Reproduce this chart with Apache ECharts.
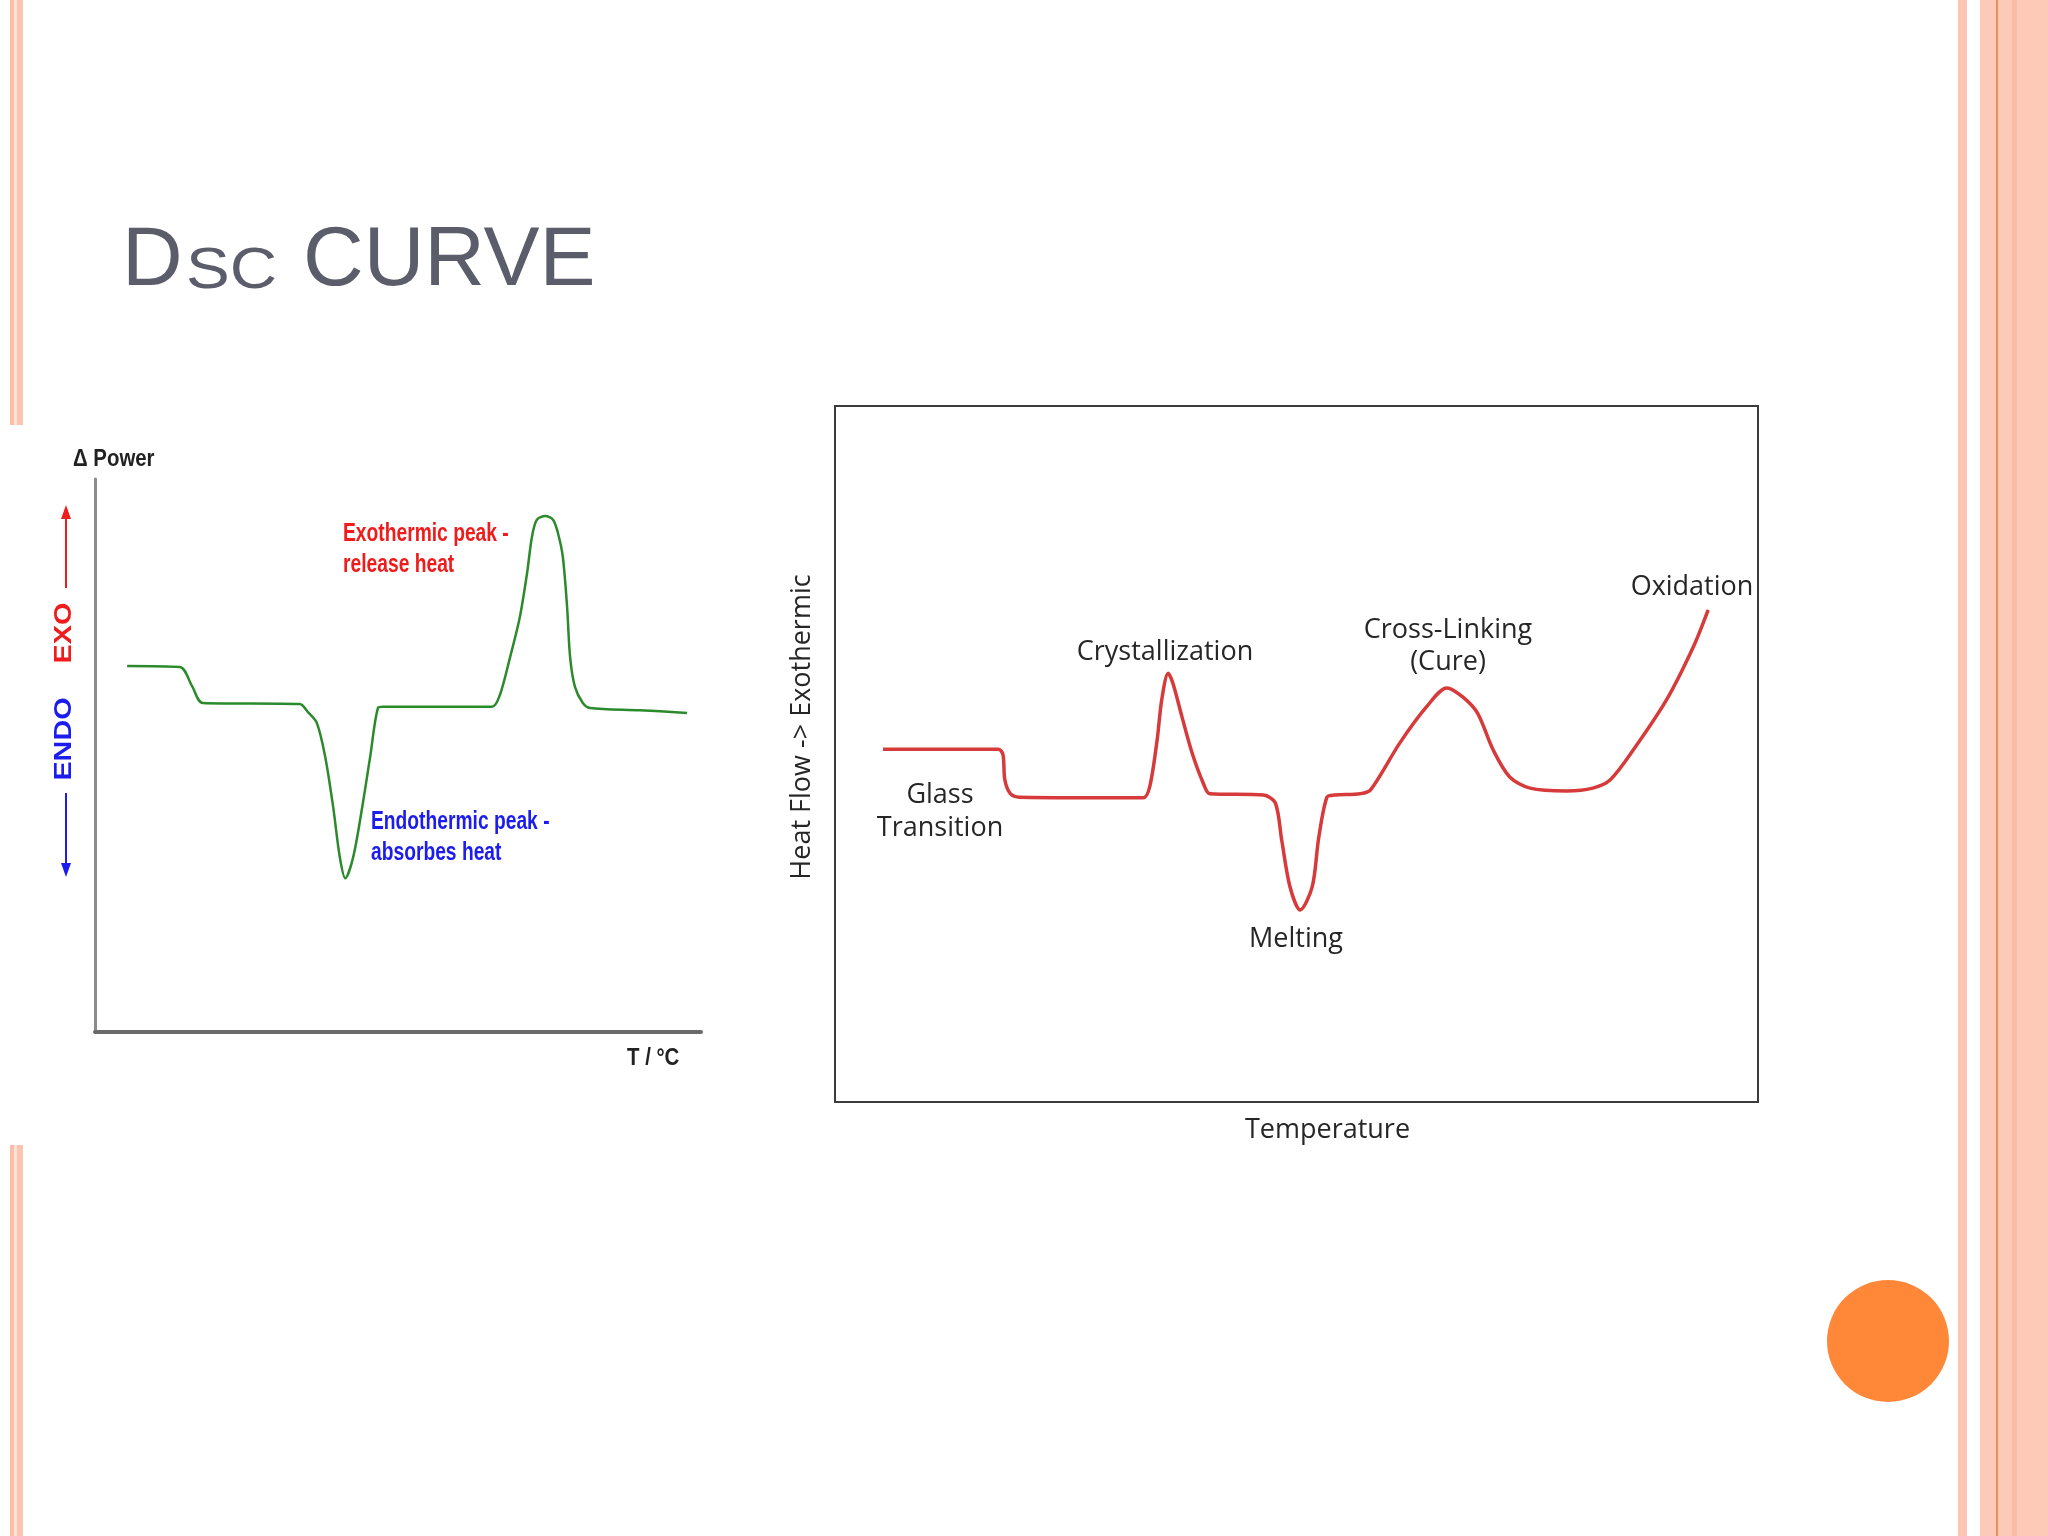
<!DOCTYPE html>
<html>
<head>
<meta charset="utf-8">
<title>DSC curve</title>
<script src="https://cdn.jsdelivr.net/npm/echarts@6/dist/echarts.min.js"></script>
<style>
  html, body { margin: 0; padding: 0; background: #ffffff; }
  #main { width: 2048px; height: 1536px; }
</style>
</head>
<body>
<div id="main"></div>
<script>
// left sketch: power vs temperature (arbitrary units, 0-100)
var leftTemp = [5.3, 14.0, 16.0, 17.8, 33.8, 35.1, 36.6, 38.0, 39.3, 40.4, 41.3, 42.6, 44.1, 45.4, 46.7, 47.5,
  65.5, 66.8, 68.5, 70.1, 71.3, 72.1, 72.9, 74.3, 75.6, 76.4, 77.2, 77.9, 78.4, 79.2, 80.5, 81.7, 89.9, 97.7];
var leftPower = [66.2, 66.0, 62.6, 59.5, 59.3, 57.9, 55.9, 49.7, 40.7, 31.6, 27.8, 31.6, 40.7, 49.7, 58.6, 58.8,
  58.8, 60.9, 67.8, 75.0, 83.0, 89.5, 92.6, 93.3, 92.6, 90.2, 85.9, 76.9, 67.8, 62.4, 59.5, 58.6, 58.2, 57.7];

// right sketch: heat flow vs temperature (arbitrary units, 0-100)
var rightTemp = [5.2, 17.7, 18.2, 18.4, 19.0, 20.0, 33.4, 34.1, 34.9, 35.4, 36.1, 36.6, 37.6, 38.7, 39.9, 40.6,
  46.4, 47.7, 48.4, 49.3, 50.4, 51.7, 52.4, 53.3, 54.1, 56.9, 58.0, 61.2, 64.1, 66.3, 68.0, 69.6,
  71.3, 73.1, 75.3, 79.3, 82.1, 84.0, 86.5, 90.1, 93.0, 94.6];
var rightHeatFlow = [50.7, 50.7, 49.9, 46.3, 44.3, 43.8, 43.7, 45.3, 52.0, 57.8, 61.6, 60.2, 55.3, 50.1, 45.8, 44.3,
  44.1, 43.0, 37.6, 30.9, 27.6, 30.9, 37.9, 43.8, 44.1, 44.3, 44.8, 51.6, 56.8, 59.5, 58.2, 55.9,
  50.6, 46.7, 45.1, 44.7, 45.1, 46.3, 50.6, 57.8, 65.4, 70.7];

function zip(xs, ys) {
  return xs.map(function (x, i) { return [x, ys[i]]; });
}

var narrow = "'Liberation Sans', Arial, sans-serif";
var calib = "'Open Sans', 'Noto Sans', sans-serif";

function label(x, y, text, opts) {
  opts = opts || {};
  return {
    type: 'text', x: x, y: y, z: 10,
    scaleX: opts.scaleX || 1,
    rotation: opts.rotation || 0,
    style: {
      text: text,
      font: opts.font || ('27px ' + calib),
      fill: opts.fill || '#262626',
      textAlign: opts.align || 'center',
      textVerticalAlign: 'middle'
    }
  };
}

var chart = echarts.init(document.getElementById('main'));

chart.setOption({
  backgroundColor: '#ffffff',
  animation: false,
  grid: [
    { left: 95, top: 479, width: 606, height: 553 },
    { left: 835, top: 406, width: 923, height: 696, show: true, borderColor: '#3c3c3c', borderWidth: 2 }
  ],
  xAxis: [
    {
      gridIndex: 0, type: 'value', min: 0, max: 100,
      axisLine: { show: true, lineStyle: { color: '#6a6a6a', width: 4 } },
      axisTick: { show: false }, axisLabel: { show: false }, splitLine: { show: false }
    },
    {
      gridIndex: 1, type: 'value', min: 0, max: 100,
      axisLine: { show: false }, axisTick: { show: false }, axisLabel: { show: false }, splitLine: { show: false },
      name: 'Temperature', nameLocation: 'middle', nameGap: 15,
      nameTextStyle: { fontFamily: calib, fontSize: 27, color: '#262626', verticalAlign: 'top', padding: [0, 0, 0, 62] }
    }
  ],
  yAxis: [
    {
      gridIndex: 0, type: 'value', min: 0, max: 100,
      axisLine: { show: true, lineStyle: { color: '#8c8c8c', width: 3 } },
      axisTick: { show: false }, axisLabel: { show: false }, splitLine: { show: false }
    },
    {
      gridIndex: 1, type: 'value', min: 0, max: 100,
      axisLine: { show: false }, axisTick: { show: false }, axisLabel: { show: false }, splitLine: { show: false },
      name: 'Heat Flow -> Exothermic', nameLocation: 'middle', nameGap: 19, nameRotate: 90,
      nameTextStyle: { fontFamily: calib, fontSize: 27, color: '#262626', padding: [0, 0, 0, 54] }
    }
  ],
  series: [
    {
      name: 'Power', type: 'line', xAxisIndex: 0, yAxisIndex: 0,
      data: zip(leftTemp, leftPower),
      smooth: 0.3, showSymbol: false,
      lineStyle: { color: '#2b8a2b', width: 2.5 }
    },
    {
      name: 'Heat Flow', type: 'line', xAxisIndex: 1, yAxisIndex: 1,
      data: zip(rightTemp, rightHeatFlow),
      smooth: 0.3, showSymbol: false,
      lineStyle: { color: '#d63a3a', width: 3.5 }
    }
  ],
  graphic: [
    // slide border stripes
    { type: 'rect', shape: { x: 10, y: 0, width: 4, height: 1536 }, style: { fill: '#fbbfa8' } },
    { type: 'rect', shape: { x: 14, y: 0, width: 3, height: 1536 }, style: { fill: '#fee2d7' } },
    { type: 'rect', shape: { x: 17, y: 0, width: 6, height: 1536 }, style: { fill: '#fbc6b1' } },
    { type: 'rect', shape: { x: 0, y: 425, width: 40, height: 720 }, style: { fill: '#ffffff' } },
    { type: 'rect', shape: { x: 1958, y: 0, width: 9, height: 1536 }, style: { fill: '#fcc6b2' } },
    { type: 'rect', shape: { x: 1980, y: 0, width: 68, height: 1536 }, style: { fill: '#fccab7' } },
    { type: 'rect', shape: { x: 1996, y: 0, width: 2, height: 1536 }, style: { fill: '#ef8d5c' } },
    { type: 'rect', shape: { x: 2012, y: 0, width: 5, height: 1536 }, style: { fill: '#f9bca4' } },
    { type: 'circle', shape: { cx: 1888, cy: 1341, r: 61 }, style: { fill: '#ff8838' } },

    // title with small caps
    label(122, 262, 'D', { font: '84px ' + narrow, fill: '#5b5d6b', align: 'left' }),
    label(186, 272, 'SC', { font: '58px ' + narrow, fill: '#5b5d6b', align: 'left', scaleX: 1.13 }),
    label(303, 262, 'CURVE', { font: '84px ' + narrow, fill: '#5b5d6b', align: 'left' }),

    // left sketch texts
    label(73, 459, '\u0394 Power', { font: 'bold 24px ' + narrow, fill: '#222222', align: 'left', scaleX: 0.85 }),
    label(627, 1058, 'T / \u00b0C', { font: 'bold 24px ' + narrow, fill: '#222222', align: 'left', scaleX: 0.85 }),
    label(343, 534, 'Exothermic peak -', { font: 'bold 26px ' + narrow, fill: '#ee1c1c', align: 'left', scaleX: 0.74 }),
    label(343, 565, 'release heat', { font: 'bold 26px ' + narrow, fill: '#ee1c1c', align: 'left', scaleX: 0.74 }),
    label(371, 822, 'Endothermic peak -', { font: 'bold 26px ' + narrow, fill: '#1c1cee', align: 'left', scaleX: 0.74 }),
    label(371, 853, 'absorbes heat', { font: 'bold 26px ' + narrow, fill: '#1c1cee', align: 'left', scaleX: 0.74 }),
    label(64, 633, 'EXO', { font: 'bold 24px ' + narrow, fill: '#ee1c1c', rotation: Math.PI / 2, scaleX: 1.2 }),
    label(64, 739, 'ENDO', { font: 'bold 24px ' + narrow, fill: '#1c1cee', rotation: Math.PI / 2, scaleX: 1.2 }),
    { type: 'line', shape: { x1: 66, y1: 588, x2: 66, y2: 516 }, style: { stroke: '#ee1c1c', lineWidth: 2 } },
    { type: 'polygon', shape: { points: [[66, 505], [61, 519], [71, 519]] }, style: { fill: '#ee1c1c' } },
    { type: 'line', shape: { x1: 66, y1: 793, x2: 66, y2: 864 }, style: { stroke: '#1c1cee', lineWidth: 2 } },
    { type: 'polygon', shape: { points: [[66, 877], [61, 863], [71, 863]] }, style: { fill: '#1c1cee' } },

    // right sketch annotations
    label(940, 795, 'Glass'),
    label(940, 828, 'Transition'),
    label(1165, 652, 'Crystallization'),
    label(1296, 939, 'Melting'),
    label(1448, 630, 'Cross-Linking'),
    label(1448, 662, '(Cure)'),
    label(1692, 587, 'Oxidation')
  ]
});
</script>
</body>
</html>
